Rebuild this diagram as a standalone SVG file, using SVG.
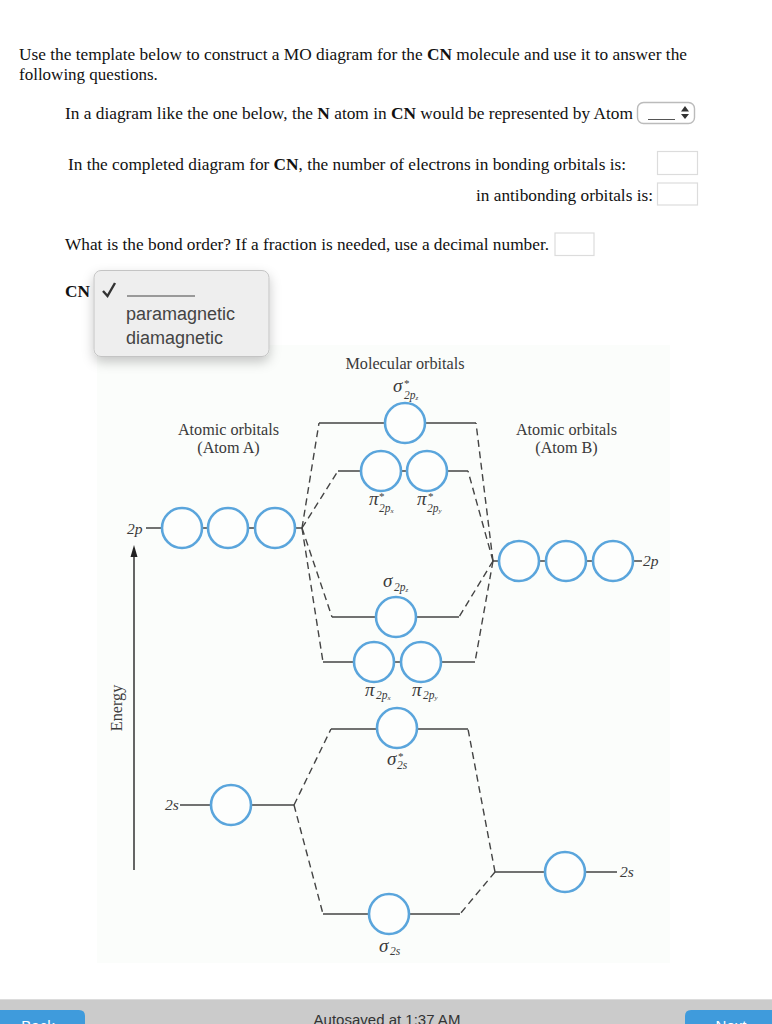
<svg xmlns="http://www.w3.org/2000/svg" width="772" height="1024" viewBox="0 0 772 1024">
<defs>
<style>
.q{font-family:"Liberation Serif","Times New Roman",serif;font-size:17px;fill:#111}
.b{font-weight:bold}
.fig{font-family:"Liberation Serif","Times New Roman",serif;fill:#3a3a3a}
.h{font-size:16.200px;text-anchor:middle}
.e{font-size:15.500px;font-style:italic}
.g{font-size:19px;font-style:italic}
.sub{font-size:11.500px;font-style:italic}
.st{font-size:11px;font-style:normal}
.tiny{font-size:7px}
.menu{font-family:"Liberation Sans",Arial,sans-serif;font-size:18px;fill:#444}
.box{fill:#fff;stroke:#dcdcdc;stroke-width:1.2}
.orb{fill:#fdfefd;stroke:#5aa5dc;stroke-width:2.600}
.lv{stroke:#444;stroke-width:1.5;fill:none}
.ds{stroke:#444;stroke-width:1.4;fill:none;stroke-dasharray:7 4.500}
.foot{font-family:"Liberation Sans",Arial,sans-serif;font-size:15px;text-anchor:middle}
</style>
<filter id="sh" x="-20%" y="-20%" width="140%" height="150%"><feDropShadow dx="0" dy="5" stdDeviation="6" flood-color="#000" flood-opacity=".22"/></filter>
</defs>
<rect width="772" height="1024" fill="#fff"/>
<rect x="97" y="345" width="573" height="618" fill="#fbfdfb"/>

<g id="questions">
<text class="q" x="19" y="60" textLength="668" lengthAdjust="spacingAndGlyphs">Use the template below to construct a MO diagram for the <tspan class="b">CN</tspan> molecule and use it to answer the</text>
<text class="q" x="19" y="80">following questions.</text>
<text class="q" x="65" y="118.500" textLength="568" lengthAdjust="spacingAndGlyphs">In a diagram like the one below, the <tspan class="b">N</tspan> atom in <tspan class="b">CN</tspan> would be represented by Atom</text>
<text class="q" x="68" y="170" textLength="558" lengthAdjust="spacingAndGlyphs">In the completed diagram for <tspan class="b">CN</tspan>, the number of electrons in bonding orbitals is:</text>
<text class="q" x="476" y="201" textLength="177" lengthAdjust="spacingAndGlyphs">in antibonding orbitals is:</text>
<text class="q" x="65" y="250" textLength="484" lengthAdjust="spacingAndGlyphs">What is the bond order? If a fraction is needed, use a decimal number.</text>
<text class="q b" x="65" y="296.500" textLength="25" lengthAdjust="spacingAndGlyphs">CN</text>
</g>

<g id="atom-select">
<rect x="637.500" y="102.500" width="57" height="21" rx="6" fill="#fff" stroke="#bbb" stroke-width="1.4"/>
<path d="M648 119.500H675" stroke="#555" stroke-width="1"/>
<path d="M681 111.500L685 106L689 111.500Z M681 114L685 119L689 114Z" fill="#333"/>
</g>
<rect id="bonding-input" class="box" x="657.500" y="151.500" width="40" height="23"/>
<rect id="antibonding-input" class="box" x="657.500" y="183" width="40" height="22"/>
<rect id="bond-order-input" class="box" x="555" y="233" width="39" height="22.500"/>

<g id="connectors">
<path class="lv" d="M319 423H385M425 423H476"/>
<path class="lv" d="M338 471H361M401 471H407M447 471H468"/>
<path class="lv" d="M332 617H376M416 617H459"/>
<path class="lv" d="M323 662H354M394 662H401M441 662H475"/>
<path class="lv" d="M331 729H377M417 729H468"/>
<path class="lv" d="M323 914H369M409 914H460"/>
<path class="lv" d="M146 528H162M202 528H208M248 528H255M295 528H302"/>
<path class="lv" d="M493 561H499M539 561H546M586 561H593M633 561H642"/>
<path class="lv" d="M180 805H211M251 805H294"/>
<path class="lv" d="M495 872H545M585 872H617"/>
<path class="ds" d="M302 528L319 423"/>
<path class="ds" d="M302 528L338 471"/>
<path class="ds" d="M302 528L332 617"/>
<path class="ds" d="M302 528L323 662"/>
<path class="ds" d="M493 561L476 423"/>
<path class="ds" d="M493 561L468 471"/>
<path class="ds" d="M493 561L459 617"/>
<path class="ds" d="M493 561L475 662"/>
<path class="ds" d="M294 805L331 729"/>
<path class="ds" d="M294 805L323 914"/>
<path class="ds" d="M495 872L468 729"/>
<path class="ds" d="M495 872L460 914"/>
<path d="M134 870V556" stroke="#333" stroke-width="1.5" fill="none"/>
<path d="M134 545L137.500 557H130.500Z" fill="#222"/>
</g>

<g id="atomA-2p"><circle class="orb" cx="182" cy="528" r="20"/><circle class="orb" cx="228" cy="528" r="20"/><circle class="orb" cx="275" cy="528" r="20"/></g>
<g id="atomB-2p"><circle class="orb" cx="519" cy="561" r="20"/><circle class="orb" cx="566" cy="561" r="20"/><circle class="orb" cx="613" cy="561" r="20"/></g>
<g id="sigma-star-2pz"><circle class="orb" cx="405" cy="423" r="20"/></g>
<g id="pi-star-2px"><circle class="orb" cx="381" cy="471" r="20"/></g>
<g id="pi-star-2py"><circle class="orb" cx="427" cy="471" r="20"/></g>
<g id="sigma-2pz"><circle class="orb" cx="396" cy="617" r="20"/></g>
<g id="pi-2px"><circle class="orb" cx="374" cy="662" r="20"/></g>
<g id="pi-2py"><circle class="orb" cx="421" cy="662" r="20"/></g>
<g id="sigma-star-2s"><circle class="orb" cx="397" cy="728" r="20"/></g>
<g id="sigma-2s"><circle class="orb" cx="389" cy="914" r="20"/></g>
<g id="atomA-2s"><circle class="orb" cx="231" cy="805" r="20"/></g>
<g id="atomB-2s"><circle class="orb" cx="565" cy="872" r="20"/></g>

<g id="labels" class="fig">
<text class="h" x="405" y="368.500">Molecular orbitals</text>
<text class="h" x="228.500" y="435">Atomic orbitals</text>
<text class="h" x="228.500" y="453">(Atom A)</text>
<text class="h" x="566.500" y="435">Atomic orbitals</text>
<text class="h" x="566.500" y="453">(Atom B)</text>
<text class="e" x="127" y="534">2p</text>
<text class="e" x="643" y="566">2p</text>
<text class="e" x="165" y="810">2s</text>
<text class="e" x="620" y="877">2s</text>
<text class="h" transform="translate(122 708) rotate(-90)">Energy</text>

<text class="g" x="393" y="392">σ<tspan class="st" x="404" y="387">*</tspan><tspan class="sub" x="404" y="399">2p</tspan><tspan class="sub tiny" dy="1">z</tspan></text>
<text class="g" x="369" y="505">π<tspan class="st" x="379" y="500">*</tspan><tspan class="sub" x="379" y="512">2p</tspan><tspan class="sub tiny" dy="1">x</tspan></text>
<text class="g" x="417" y="505">π<tspan class="st" x="428" y="500">*</tspan><tspan class="sub" x="427" y="512">2p</tspan><tspan class="sub tiny" dy="1">y</tspan></text>
<text class="g" x="383" y="587">σ<tspan class="sub" x="394" y="591">2p</tspan><tspan class="sub tiny" dy="1">z</tspan></text>
<text class="g" x="365" y="696">π<tspan class="sub" x="376" y="699">2p</tspan><tspan class="sub tiny" dy="1">x</tspan></text>
<text class="g" x="412" y="696">π<tspan class="sub" x="423" y="699">2p</tspan><tspan class="sub tiny" dy="1">y</tspan></text>
<text class="g" x="387" y="765">σ<tspan class="st" x="398" y="760">*</tspan><tspan class="sub" x="397" y="769">2s</tspan></text>
<text class="g" x="379" y="952">σ<tspan class="sub" x="390" y="955">2s</tspan></text>
</g>

<g id="dropdown">
<rect x="94" y="270.500" width="175" height="86" rx="7" fill="#eeeeee" stroke="#c4c4c4" filter="url(#sh)"/>
<path d="M103 291L107.500 296L115 283" fill="none" stroke="#333" stroke-width="2.400"/>
<path d="M127 296H195" stroke="#444" stroke-width="1.200"/>
<text class="menu" x="126" y="320">paramagnetic</text>
<text class="menu" x="126" y="344">diamagnetic</text>
</g>

<g id="footer">
<rect x="0" y="999" width="772" height="25" fill="#cbcbcb"/>
<path d="M0 999.500H772" stroke="#dcdcdc"/>
<path d="M0 1010H79Q85 1010 85 1016V1024H0Z" fill="#3f9bdc"/>
<path d="M772 1010H691Q685 1010 685 1016V1024H772Z" fill="#3f9bdc"/>
<text class="foot" x="387" y="1025" fill="#333">Autosaved at 1:37 AM</text>
<text class="foot" x="38" y="1031" fill="#fff">Back</text>
<text class="foot" x="731" y="1031" fill="#fff">Next</text>
</g>
</svg>
